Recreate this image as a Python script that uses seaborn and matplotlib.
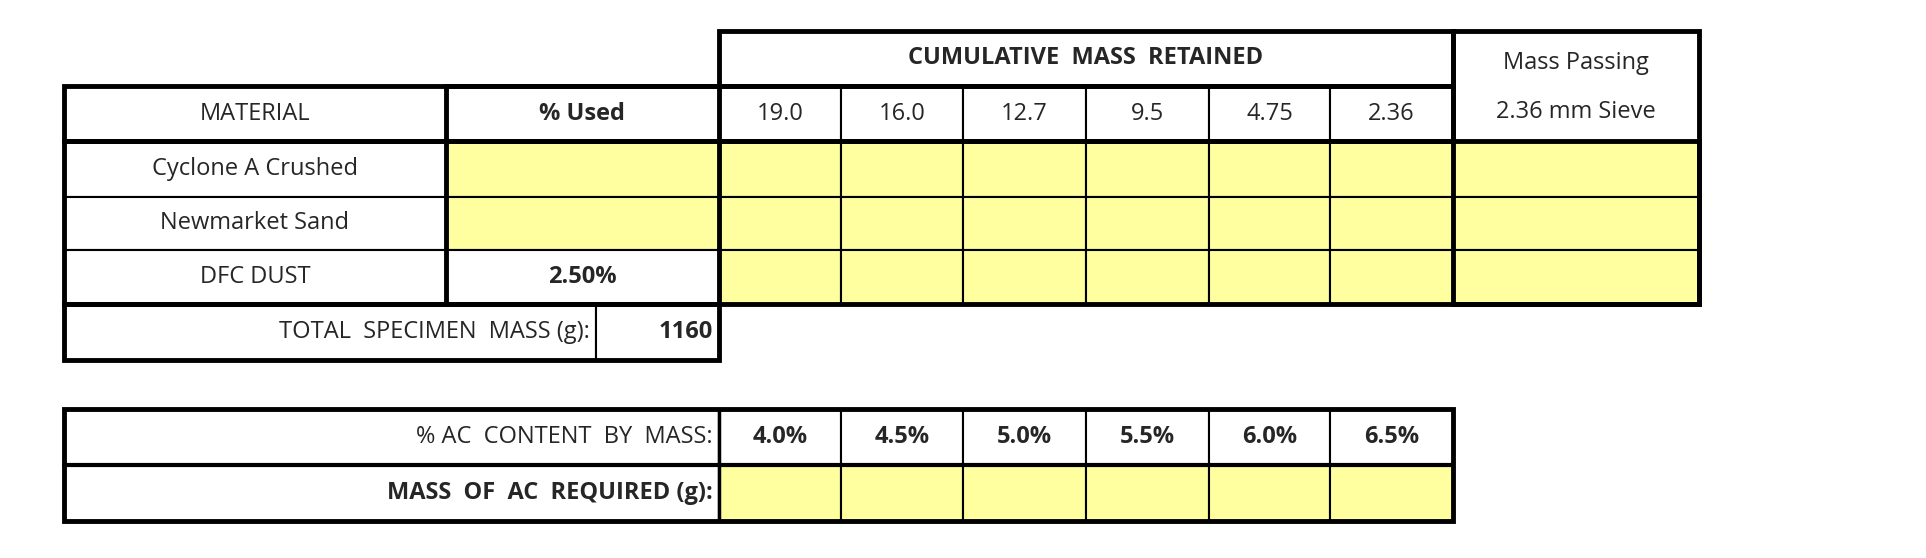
import matplotlib
matplotlib.use("Agg")
import matplotlib.pyplot as plt
from matplotlib.patches import Rectangle
import seaborn as sns

SIEVES = ["19.0", "16.0", "12.7", "9.5", "4.75", "2.36"]
MATERIALS = ["Cyclone A Crushed", "Newmarket Sand", "DFC DUST"]
PCT_USED = ["", "", "2.50%"]
TOTAL_MASS = "1160"
AC_CONTENT = ["4.0%", "4.5%", "5.0%", "5.5%", "6.0%", "6.5%"]

YELLOW = "#FFFFA0"

sns.set_theme(style="white")
plt.rcParams["font.family"] = ["Open Sans", "DejaVu Sans"]

fig = plt.figure(figsize=(19.26, 5.58), dpi=100)
ax = fig.add_axes([0, 0, 1, 1])
ax.set_xlim(0, 1568)
ax.set_ylim(454, 0)
ax.axis("off")

colx = [52, 363, 585, 685, 784, 884, 984, 1083, 1183, 1383]
rows = [25, 70, 115, 160, 203, 247, 293]
FS = 17


def cell(x0, x1, y0, y1, text="", fill="white", bold=False, ha="center"):
    ax.add_patch(Rectangle((x0, y0), x1 - x0, y1 - y0, facecolor=fill,
                           edgecolor="black", lw=1.5))
    if text:
        tx = (x0 + x1) / 2 if ha == "center" else x1 - 5
        ax.text(tx, (y0 + y1) / 2, text, ha=ha, va="center", fontsize=FS,
                fontweight="bold" if bold else "normal")


def thick(x0, x1, y0, y1):
    ax.add_patch(Rectangle((x0, y0), x1 - x0, y1 - y0, fill=False,
                           edgecolor="black", lw=3.5))


# header
cell(colx[2], colx[8], rows[0], rows[1], "CUMULATIVE  MASS  RETAINED", bold=True)
cell(colx[8], colx[9], rows[0], rows[2])
ax.text((colx[8] + colx[9]) / 2, 51, "Mass Passing", ha="center", va="center", fontsize=FS)
ax.text((colx[8] + colx[9]) / 2, 91, "2.36 mm Sieve", ha="center", va="center", fontsize=FS)
cell(colx[0], colx[1], rows[1], rows[2], "MATERIAL")
cell(colx[1], colx[2], rows[1], rows[2], "% Used", bold=True)
for i, s in enumerate(SIEVES):
    cell(colx[2 + i], colx[3 + i], rows[1], rows[2], s)

# material rows
for r, (m, p) in enumerate(zip(MATERIALS, PCT_USED)):
    y0, y1 = rows[2 + r], rows[3 + r]
    cell(colx[0], colx[1], y0, y1, m)
    cell(colx[1], colx[2], y0, y1, p, fill="white" if p else YELLOW, bold=True)
    for i in range(len(SIEVES) + 1):
        cell(colx[2 + i], colx[3 + i], y0, y1, fill=YELLOW)

# total row
cell(colx[0], 485, rows[5], rows[6], "TOTAL  SPECIMEN  MASS (g):", ha="right")
cell(485, colx[2], rows[5], rows[6], TOTAL_MASS, bold=True, ha="right")

thick(colx[2], colx[8], rows[0], rows[1])
thick(colx[8], colx[9], rows[0], rows[5])
thick(colx[0], colx[8], rows[1], rows[2])
thick(colx[0], colx[9], rows[2], rows[5])
thick(colx[0], colx[2], rows[5], rows[6])
thick(colx[1], colx[2], rows[1], rows[5])

# AC table
r2 = [333, 378, 424]
cell(colx[0], colx[2], r2[0], r2[1], "% AC  CONTENT  BY  MASS:", ha="right")
cell(colx[0], colx[2], r2[1], r2[2], "MASS  OF  AC  REQUIRED (g):", bold=True, ha="right")
for i, a in enumerate(AC_CONTENT):
    cell(colx[2 + i], colx[3 + i], r2[0], r2[1], a, bold=True)
    cell(colx[2 + i], colx[3 + i], r2[1], r2[2], fill=YELLOW)
thick(colx[0], colx[8], r2[0], r2[2])
ax.plot([colx[0], colx[8]], [r2[1], r2[1]], color="black", lw=3)
ax.plot([colx[2], colx[2]], [r2[0], r2[2]], color="black", lw=2.5)

fig.savefig("out.png", dpi=100)
